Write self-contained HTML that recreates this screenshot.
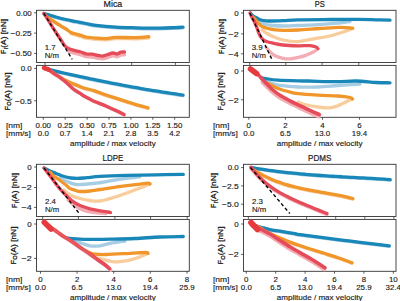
<!DOCTYPE html>
<html><head><meta charset="utf-8"><style>
html,body{margin:0;padding:0;background:#fff;}
svg{display:block;}
text{font-family:"Liberation Sans",sans-serif;fill:#1a1a1a;stroke:#1a1a1a;stroke-width:0.15px;}
</style></head><body>
<svg width="400" height="301" viewBox="0 0 400 301">
<rect width="400" height="301" fill="#fff"/>
<g>
<rect x="36.5" y="10.3" width="152.8" height="52.2" fill="none" stroke="#333333" stroke-width="0.9"/>
<rect x="36.5" y="65.4" width="152.8" height="51.89999999999999" fill="none" stroke="#333333" stroke-width="0.9"/>
<line x1="34.1" y1="12.8" x2="36.5" y2="12.8" stroke="#333333" stroke-width="0.8"/>
<line x1="34.1" y1="33.1" x2="36.5" y2="33.1" stroke="#333333" stroke-width="0.8"/>
<line x1="34.1" y1="53.4" x2="36.5" y2="53.4" stroke="#333333" stroke-width="0.8"/>
<line x1="34.1" y1="68.4" x2="36.5" y2="68.4" stroke="#333333" stroke-width="0.8"/>
<line x1="34.1" y1="100.8" x2="36.5" y2="100.8" stroke="#333333" stroke-width="0.8"/>
<line x1="45" y1="62.5" x2="45" y2="64.9" stroke="#333333" stroke-width="0.8"/>
<line x1="88.9" y1="62.5" x2="88.9" y2="64.9" stroke="#333333" stroke-width="0.8"/>
<line x1="131.7" y1="62.5" x2="131.7" y2="64.9" stroke="#333333" stroke-width="0.8"/>
<line x1="175.4" y1="62.5" x2="175.4" y2="64.9" stroke="#333333" stroke-width="0.8"/>
<line x1="43.3" y1="117.3" x2="43.3" y2="119.7" stroke="#333333" stroke-width="0.8"/>
<line x1="65.19999999999999" y1="117.3" x2="65.19999999999999" y2="119.7" stroke="#333333" stroke-width="0.8"/>
<line x1="87.1" y1="117.3" x2="87.1" y2="119.7" stroke="#333333" stroke-width="0.8"/>
<line x1="108.99999999999999" y1="117.3" x2="108.99999999999999" y2="119.7" stroke="#333333" stroke-width="0.8"/>
<line x1="130.89999999999998" y1="117.3" x2="130.89999999999998" y2="119.7" stroke="#333333" stroke-width="0.8"/>
<line x1="152.8" y1="117.3" x2="152.8" y2="119.7" stroke="#333333" stroke-width="0.8"/>
<line x1="174.7" y1="117.3" x2="174.7" y2="119.7" stroke="#333333" stroke-width="0.8"/>
<path d="M44.00,14.20 C45.17,14.53 49.00,15.62 51.00,16.20 C53.00,16.78 53.50,17.03 56.00,17.70 C58.50,18.37 62.67,19.45 66.00,20.20 C69.33,20.95 72.67,21.53 76.00,22.20 C79.33,22.87 82.67,23.55 86.00,24.20 C89.33,24.85 91.00,25.48 96.00,26.10 C101.00,26.72 109.33,27.50 116.00,27.90 C122.67,28.30 128.67,28.35 136.00,28.50 C143.33,28.65 153.50,28.83 160.00,28.80 C166.50,28.77 171.17,28.45 175.00,28.30 C178.83,28.15 181.67,27.97 183.00,27.90" fill="none" stroke="#a6cde4" stroke-width="3.3" stroke-linecap="round" stroke-linejoin="round" opacity="1.0"/>
<path d="M44.00,13.50 C45.17,13.83 49.00,14.92 51.00,15.50 C53.00,16.08 53.50,16.33 56.00,17.00 C58.50,17.67 62.67,18.75 66.00,19.50 C69.33,20.25 72.67,20.83 76.00,21.50 C79.33,22.17 82.67,22.85 86.00,23.50 C89.33,24.15 91.00,24.78 96.00,25.40 C101.00,26.02 109.33,26.80 116.00,27.20 C122.67,27.60 128.67,27.65 136.00,27.80 C143.33,27.95 153.50,28.13 160.00,28.10 C166.50,28.07 171.17,27.75 175.00,27.60 C178.83,27.45 181.67,27.27 183.00,27.20" fill="none" stroke="#1a87b9" stroke-width="3.3" stroke-linecap="round" stroke-linejoin="round" opacity="1.0"/>
<path d="M71.00,33.70 C71.83,33.95 74.33,34.73 76.00,35.20 C77.67,35.67 79.33,36.00 81.00,36.50 C82.67,37.00 83.50,37.73 86.00,38.20 C88.50,38.67 92.67,39.03 96.00,39.30 C99.33,39.57 102.67,39.92 106.00,39.80 C109.33,39.68 111.00,38.77 116.00,38.60 C121.00,38.43 130.53,38.93 136.00,38.80 C141.47,38.67 146.67,37.97 148.80,37.80" fill="none" stroke="#f9cc9c" stroke-width="3.3" stroke-linecap="round" stroke-linejoin="round" opacity="1.0"/>
<path d="M44.00,13.50 C44.33,13.92 44.83,15.00 46.00,16.00 C47.17,17.00 49.33,18.33 51.00,19.50 C52.67,20.67 54.33,21.92 56.00,23.00 C57.67,24.08 59.33,25.00 61.00,26.00 C62.67,27.00 64.33,27.92 66.00,29.00 C67.67,30.08 69.33,31.67 71.00,32.50 C72.67,33.33 74.33,33.53 76.00,34.00 C77.67,34.47 79.33,34.80 81.00,35.30 C82.67,35.80 83.50,36.53 86.00,37.00 C88.50,37.47 92.67,37.83 96.00,38.10 C99.33,38.37 102.67,38.72 106.00,38.60 C109.33,38.48 111.00,37.57 116.00,37.40 C121.00,37.23 130.53,37.73 136.00,37.60 C141.47,37.47 146.67,36.77 148.80,36.60" fill="none" stroke="#f0962a" stroke-width="3.3" stroke-linecap="round" stroke-linejoin="round" opacity="1.0"/>
<path d="M69.00,51.60 C69.83,51.85 72.00,52.57 74.00,53.10 C76.00,53.63 79.00,54.22 81.00,54.80 C83.00,55.38 84.17,56.23 86.00,56.60 C87.83,56.97 90.00,56.72 92.00,57.00 C94.00,57.28 96.17,58.00 98.00,58.30 C99.83,58.60 101.33,58.97 103.00,58.80 C104.67,58.63 106.33,57.80 108.00,57.30 C109.67,56.80 111.50,55.88 113.00,55.80 C114.50,55.72 115.67,56.93 117.00,56.80 C118.33,56.67 119.75,55.33 121.00,55.00 C122.25,54.67 123.92,54.83 124.50,54.80" fill="none" stroke="#f3acb4" stroke-width="3.3" stroke-linecap="round" stroke-linejoin="round" opacity="1.0"/>
<path d="M44.00,13.50 C45.00,15.08 48.00,19.83 50.00,23.00 C52.00,26.17 54.17,29.67 56.00,32.50 C57.83,35.33 59.50,37.75 61.00,40.00 C62.50,42.25 63.67,44.53 65.00,46.00 C66.33,47.47 67.50,48.08 69.00,48.80 C70.50,49.52 72.00,49.77 74.00,50.30 C76.00,50.83 79.00,51.42 81.00,52.00 C83.00,52.58 84.17,53.43 86.00,53.80 C87.83,54.17 90.00,53.92 92.00,54.20 C94.00,54.48 96.17,55.20 98.00,55.50 C99.83,55.80 101.33,56.17 103.00,56.00 C104.67,55.83 106.33,55.00 108.00,54.50 C109.67,54.00 111.50,53.08 113.00,53.00 C114.50,52.92 115.67,54.13 117.00,54.00 C118.33,53.87 119.75,52.53 121.00,52.20 C122.25,51.87 123.92,52.03 124.50,52.00" fill="none" stroke="#e64b5a" stroke-width="3.3" stroke-linecap="round" stroke-linejoin="round" opacity="1.0"/>
<line x1="43.8" y1="13.3" x2="72.2" y2="59.3" stroke="#000" stroke-width="1.35" stroke-dasharray="3.4,2.5"/>
<path d="M46.00,69.42 C46.99,69.65 49.97,70.37 51.96,70.83 C53.94,71.30 55.93,71.77 57.91,72.23 C59.90,72.69 61.88,73.14 63.87,73.60 C65.86,74.05 67.84,74.50 69.83,74.94 C71.81,75.39 73.80,75.83 75.78,76.26 C77.77,76.70 79.75,77.13 81.74,77.56 C83.72,77.99 85.71,78.41 87.70,78.83 C89.68,79.25 91.67,79.67 93.65,80.08 C95.64,80.49 97.62,80.90 99.61,81.30 C101.59,81.70 103.58,82.10 105.57,82.50 C107.55,82.89 109.54,83.28 111.52,83.67 C113.51,84.05 115.49,84.43 117.48,84.81 C119.46,85.19 121.45,85.56 123.43,85.93 C125.42,86.30 127.41,86.66 129.39,87.02 C131.38,87.38 133.36,87.74 135.35,88.09 C137.33,88.44 139.32,88.79 141.30,89.13 C143.29,89.47 145.28,89.81 147.26,90.15 C149.25,90.48 151.23,90.81 153.22,91.13 C155.20,91.46 157.19,91.78 159.17,92.09 C161.16,92.41 163.14,92.72 165.13,93.02 C167.12,93.33 169.10,93.63 171.09,93.93 C173.07,94.22 175.06,94.52 177.04,94.80 C179.03,95.09 182.01,95.51 183.00,95.65" fill="none" stroke="#a6cde4" stroke-width="3.3" stroke-linecap="round" stroke-linejoin="round" opacity="1.0"/>
<path d="M46.00,68.82 C46.99,69.05 49.97,69.77 51.96,70.23 C53.94,70.70 55.93,71.17 57.91,71.63 C59.90,72.09 61.88,72.54 63.87,73.00 C65.86,73.45 67.84,73.90 69.83,74.34 C71.81,74.79 73.80,75.23 75.78,75.66 C77.77,76.10 79.75,76.53 81.74,76.96 C83.72,77.39 85.71,77.81 87.70,78.23 C89.68,78.65 91.67,79.07 93.65,79.48 C95.64,79.89 97.62,80.30 99.61,80.70 C101.59,81.10 103.58,81.50 105.57,81.90 C107.55,82.29 109.54,82.68 111.52,83.07 C113.51,83.45 115.49,83.83 117.48,84.21 C119.46,84.59 121.45,84.96 123.43,85.33 C125.42,85.70 127.41,86.06 129.39,86.42 C131.38,86.78 133.36,87.14 135.35,87.49 C137.33,87.84 139.32,88.19 141.30,88.53 C143.29,88.87 145.28,89.21 147.26,89.55 C149.25,89.88 151.23,90.21 153.22,90.53 C155.20,90.86 157.19,91.18 159.17,91.49 C161.16,91.81 163.14,92.12 165.13,92.42 C167.12,92.73 169.10,93.03 171.09,93.33 C173.07,93.62 175.06,93.92 177.04,94.20 C179.03,94.49 182.01,94.91 183.00,95.05" fill="none" stroke="#1a87b9" stroke-width="3.3" stroke-linecap="round" stroke-linejoin="round" opacity="1.0"/>
<path d="M44.00,68.60 C44.83,68.93 47.33,69.68 49.00,70.60 C50.67,71.52 52.33,73.00 54.00,74.10 C55.67,75.20 57.33,76.20 59.00,77.20 C60.67,78.20 62.33,79.20 64.00,80.10 C65.67,81.00 67.33,81.85 69.00,82.60 C70.67,83.35 72.33,83.93 74.00,84.60 C75.67,85.27 77.33,85.93 79.00,86.60 C80.67,87.27 81.50,87.83 84.00,88.60 C86.50,89.37 90.33,90.03 94.00,91.20 C97.67,92.37 102.33,94.35 106.00,95.60 C109.67,96.85 112.67,97.63 116.00,98.70 C119.33,99.77 122.67,100.92 126.00,102.00 C129.33,103.08 132.33,104.13 136.00,105.20 C139.67,106.27 146.00,107.87 148.00,108.40" fill="none" stroke="#f9cc9c" stroke-width="3.3" stroke-linecap="round" stroke-linejoin="round" opacity="1.0"/>
<path d="M44.00,68.00 C44.83,68.33 47.33,69.08 49.00,70.00 C50.67,70.92 52.33,72.40 54.00,73.50 C55.67,74.60 57.33,75.60 59.00,76.60 C60.67,77.60 62.33,78.60 64.00,79.50 C65.67,80.40 67.33,81.25 69.00,82.00 C70.67,82.75 72.33,83.33 74.00,84.00 C75.67,84.67 77.33,85.33 79.00,86.00 C80.67,86.67 81.50,87.23 84.00,88.00 C86.50,88.77 90.33,89.43 94.00,90.60 C97.67,91.77 102.33,93.75 106.00,95.00 C109.67,96.25 112.67,97.03 116.00,98.10 C119.33,99.17 122.67,100.32 126.00,101.40 C129.33,102.48 132.33,103.53 136.00,104.60 C139.67,105.67 146.00,107.27 148.00,107.80" fill="none" stroke="#f0962a" stroke-width="3.3" stroke-linecap="round" stroke-linejoin="round" opacity="1.0"/>
<path d="M44.50,68.60 C45.33,68.93 47.83,69.68 49.50,70.60 C51.17,71.52 52.83,73.00 54.50,74.10 C56.17,75.20 57.83,76.02 59.50,77.20 C61.17,78.38 62.83,79.80 64.50,81.20 C66.17,82.60 67.83,84.12 69.50,85.60 C71.17,87.08 72.83,88.83 74.50,90.10 C76.17,91.37 77.83,92.12 79.50,93.20 C81.17,94.28 82.83,95.60 84.50,96.60 C86.17,97.60 87.83,98.33 89.50,99.20 C91.17,100.07 91.67,100.57 94.50,101.80 C97.33,103.03 102.83,105.03 106.50,106.60 C110.17,108.17 113.50,109.78 116.50,111.20 C119.50,112.62 123.17,114.45 124.50,115.10" fill="none" stroke="#f3acb4" stroke-width="3.3" stroke-linecap="round" stroke-linejoin="round" opacity="1.0"/>
<path d="M44.00,68.00 C44.83,68.33 47.33,69.08 49.00,70.00 C50.67,70.92 52.33,72.40 54.00,73.50 C55.67,74.60 57.33,75.42 59.00,76.60 C60.67,77.78 62.33,79.20 64.00,80.60 C65.67,82.00 67.33,83.52 69.00,85.00 C70.67,86.48 72.33,88.23 74.00,89.50 C75.67,90.77 77.33,91.52 79.00,92.60 C80.67,93.68 82.33,95.00 84.00,96.00 C85.67,97.00 87.33,97.73 89.00,98.60 C90.67,99.47 91.17,99.97 94.00,101.20 C96.83,102.43 102.33,104.43 106.00,106.00 C109.67,107.57 113.00,109.18 116.00,110.60 C119.00,112.02 122.67,113.85 124.00,114.50" fill="none" stroke="#e64b5a" stroke-width="3.3" stroke-linecap="round" stroke-linejoin="round" opacity="1.0"/>
<path d="M44.00,67.80 L49.00,69.60" fill="none" stroke="#e83a3e" stroke-width="4.5" stroke-linecap="round" stroke-linejoin="round" opacity="1.0"/>

<rect x="243.5" y="10.3" width="152.5" height="52.2" fill="none" stroke="#333333" stroke-width="0.9"/>
<rect x="243.5" y="65.4" width="152.5" height="51.89999999999999" fill="none" stroke="#333333" stroke-width="0.9"/>
<line x1="241.1" y1="13" x2="243.5" y2="13" stroke="#333333" stroke-width="0.8"/>
<line x1="241.1" y1="33.9" x2="243.5" y2="33.9" stroke="#333333" stroke-width="0.8"/>
<line x1="241.1" y1="53.8" x2="243.5" y2="53.8" stroke="#333333" stroke-width="0.8"/>
<line x1="241.1" y1="71" x2="243.5" y2="71" stroke="#333333" stroke-width="0.8"/>
<line x1="241.1" y1="99.8" x2="243.5" y2="99.8" stroke="#333333" stroke-width="0.8"/>
<line x1="249.7" y1="62.5" x2="249.7" y2="64.9" stroke="#333333" stroke-width="0.8"/>
<line x1="285.8" y1="62.5" x2="285.8" y2="64.9" stroke="#333333" stroke-width="0.8"/>
<line x1="322.1" y1="62.5" x2="322.1" y2="64.9" stroke="#333333" stroke-width="0.8"/>
<line x1="358.8" y1="62.5" x2="358.8" y2="64.9" stroke="#333333" stroke-width="0.8"/>
<line x1="248.8" y1="117.3" x2="248.8" y2="119.7" stroke="#333333" stroke-width="0.8"/>
<line x1="285.4" y1="117.3" x2="285.4" y2="119.7" stroke="#333333" stroke-width="0.8"/>
<line x1="322.5" y1="117.3" x2="322.5" y2="119.7" stroke="#333333" stroke-width="0.8"/>
<line x1="359.5" y1="117.3" x2="359.5" y2="119.7" stroke="#333333" stroke-width="0.8"/>
<path d="M258.00,21.00 C258.83,21.50 260.50,23.25 263.00,24.00 C265.50,24.75 269.67,25.17 273.00,25.50 C276.33,25.83 278.83,26.00 283.00,26.00 C287.17,26.00 292.17,25.72 298.00,25.50 C303.83,25.28 311.33,25.08 318.00,24.70 C324.67,24.32 332.67,23.73 338.00,23.20 C343.33,22.67 348.00,21.78 350.00,21.50" fill="none" stroke="#a6cde4" stroke-width="3.3" stroke-linecap="round" stroke-linejoin="round" opacity="1.0"/>
<path d="M250.50,13.00 C250.92,13.50 252.08,15.25 253.00,16.00 C253.92,16.75 255.00,16.95 256.00,17.50 C257.00,18.05 257.83,18.80 259.00,19.30 C260.17,19.80 261.50,20.22 263.00,20.50 C264.50,20.78 264.67,20.98 268.00,21.00 C271.33,21.02 278.00,20.80 283.00,20.60 C288.00,20.40 290.17,19.98 298.00,19.80 C305.83,19.62 320.00,19.57 330.00,19.50 C340.00,19.43 350.33,19.35 358.00,19.40 C365.67,19.45 370.67,19.68 376.00,19.80 C381.33,19.92 387.67,20.05 390.00,20.10" fill="none" stroke="#1a87b9" stroke-width="3.3" stroke-linecap="round" stroke-linejoin="round" opacity="1.0"/>
<path d="M262.00,30.00 C262.83,30.58 265.17,32.42 267.00,33.50 C268.83,34.58 270.33,35.42 273.00,36.50 C275.67,37.58 278.83,39.15 283.00,40.00 C287.17,40.85 292.67,41.83 298.00,41.60 C303.33,41.37 309.67,39.53 315.00,38.60 C320.33,37.67 325.83,36.93 330.00,36.00 C334.17,35.07 336.17,34.25 340.00,33.00 C343.83,31.75 350.83,29.25 353.00,28.50" fill="none" stroke="#f9cc9c" stroke-width="3.3" stroke-linecap="round" stroke-linejoin="round" opacity="1.0"/>
<path d="M253.00,17.00 C253.67,17.75 255.83,20.17 257.00,21.50 C258.17,22.83 259.00,24.08 260.00,25.00 C261.00,25.92 261.67,26.42 263.00,27.00 C264.33,27.58 266.33,28.08 268.00,28.50 C269.67,28.92 270.50,29.20 273.00,29.50 C275.50,29.80 278.83,30.22 283.00,30.30 C287.17,30.38 291.83,30.30 298.00,30.00 C304.17,29.70 313.00,28.95 320.00,28.50 C327.00,28.05 334.58,27.35 340.00,27.30 C345.42,27.25 350.42,28.05 352.50,28.20" fill="none" stroke="#f0962a" stroke-width="3.3" stroke-linecap="round" stroke-linejoin="round" opacity="1.0"/>
<path d="M266.00,47.00 C266.67,47.83 268.50,50.53 270.00,52.00 C271.50,53.47 272.83,54.75 275.00,55.80 C277.17,56.85 280.50,57.78 283.00,58.30 C285.50,58.82 287.50,59.03 290.00,58.90 C292.50,58.77 295.50,58.05 298.00,57.50 C300.50,56.95 302.00,56.75 305.00,55.60 C308.00,54.45 314.17,51.43 316.00,50.60" fill="none" stroke="#f3acb4" stroke-width="3.3" stroke-linecap="round" stroke-linejoin="round" opacity="1.0"/>
<path d="M250.00,13.00 C250.33,13.75 251.25,16.00 252.00,17.50 C252.75,19.00 253.67,20.25 254.50,22.00 C255.33,23.75 256.22,26.00 257.00,28.00 C257.78,30.00 258.45,32.33 259.20,34.00 C259.95,35.67 260.62,36.90 261.50,38.00 C262.38,39.10 263.42,39.93 264.50,40.60 C265.58,41.27 266.58,41.57 268.00,42.00 C269.42,42.43 270.50,42.70 273.00,43.20 C275.50,43.70 278.83,44.57 283.00,45.00 C287.17,45.43 293.50,45.68 298.00,45.80 C302.50,45.92 307.00,45.50 310.00,45.70 C313.00,45.90 314.67,46.50 316.00,47.00 C317.33,47.50 317.67,48.42 318.00,48.70" fill="none" stroke="#e64b5a" stroke-width="3.3" stroke-linecap="round" stroke-linejoin="round" opacity="1.0"/>
<line x1="249.8" y1="13" x2="272" y2="59.5" stroke="#000" stroke-width="1.35" stroke-dasharray="3.4,2.5"/>
<path d="M264.00,80.00 C265.00,80.42 267.67,81.63 270.00,82.50 C272.33,83.37 273.33,84.45 278.00,85.20 C282.67,85.95 291.33,86.70 298.00,87.00 C304.67,87.30 311.33,87.25 318.00,87.00 C324.67,86.75 331.00,86.00 338.00,85.50 C345.00,85.00 356.33,84.25 360.00,84.00" fill="none" stroke="#a6cde4" stroke-width="3.3" stroke-linecap="round" stroke-linejoin="round" opacity="1.0"/>
<path d="M262.00,78.00 C262.67,78.10 263.33,78.23 266.00,78.60 C268.67,78.97 271.00,79.80 278.00,80.20 C285.00,80.60 298.33,80.75 308.00,81.00 C317.67,81.25 328.00,81.70 336.00,81.70 C344.00,81.70 349.33,80.87 356.00,81.00 C362.67,81.13 370.33,82.20 376.00,82.50 C381.67,82.80 387.67,82.75 390.00,82.80" fill="none" stroke="#1a87b9" stroke-width="3.3" stroke-linecap="round" stroke-linejoin="round" opacity="1.0"/>
<path d="M298.00,102.00 C299.17,102.42 301.67,103.67 305.00,104.50 C308.33,105.33 313.83,106.45 318.00,107.00 C322.17,107.55 326.67,108.02 330.00,107.80 C333.33,107.58 334.33,107.17 338.00,105.70 C341.67,104.23 349.67,100.12 352.00,99.00" fill="none" stroke="#f9cc9c" stroke-width="3.3" stroke-linecap="round" stroke-linejoin="round" opacity="1.0"/>
<path d="M267.00,83.00 C268.00,83.50 271.17,85.08 273.00,86.00 C274.83,86.92 275.50,87.58 278.00,88.50 C280.50,89.42 284.67,90.63 288.00,91.50 C291.33,92.37 293.00,93.08 298.00,93.70 C303.00,94.32 311.33,94.82 318.00,95.20 C324.67,95.58 332.67,95.62 338.00,96.00 C343.33,96.38 347.58,97.00 350.00,97.50 C352.42,98.00 352.08,98.75 352.50,99.00" fill="none" stroke="#f0962a" stroke-width="3.3" stroke-linecap="round" stroke-linejoin="round" opacity="1.0"/>
<path d="M262.20,82.20 C263.03,83.03 265.53,85.53 267.20,87.20 C268.87,88.87 270.20,90.48 272.20,92.20 C274.20,93.92 276.37,95.70 279.20,97.50 C282.03,99.30 285.87,101.28 289.20,103.00 C292.53,104.72 295.87,106.20 299.20,107.80 C302.53,109.40 305.95,111.10 309.20,112.60 C312.45,114.10 317.12,116.10 318.70,116.80" fill="none" stroke="#f3acb4" stroke-width="3.6" stroke-linecap="round" stroke-linejoin="round" opacity="1.0"/>
<path d="M250.50,69.50 C251.08,69.83 252.75,70.67 254.00,71.50 C255.25,72.33 256.50,73.08 258.00,74.50 C259.50,75.92 261.33,78.25 263.00,80.00 C264.67,81.75 266.33,83.33 268.00,85.00 C269.67,86.67 271.00,88.28 273.00,90.00 C275.00,91.72 277.17,93.50 280.00,95.30 C282.83,97.10 286.67,99.08 290.00,100.80 C293.33,102.52 296.67,104.00 300.00,105.60 C303.33,107.20 306.75,108.90 310.00,110.40 C313.25,111.90 317.92,113.90 319.50,114.60" fill="none" stroke="#e64b5a" stroke-width="3.6" stroke-linecap="round" stroke-linejoin="round" opacity="1.0"/>
<path d="M250.50,69.00 L256.50,73.50" fill="none" stroke="#e83a3e" stroke-width="5.5" stroke-linecap="round" stroke-linejoin="round" opacity="1.0"/>

<rect x="36.5" y="164.3" width="152.8" height="52.19999999999999" fill="none" stroke="#333333" stroke-width="0.9"/>
<rect x="36.5" y="219.4" width="152.8" height="51.900000000000006" fill="none" stroke="#333333" stroke-width="0.9"/>
<line x1="34.1" y1="167" x2="36.5" y2="167" stroke="#333333" stroke-width="0.8"/>
<line x1="34.1" y1="187.5" x2="36.5" y2="187.5" stroke="#333333" stroke-width="0.8"/>
<line x1="34.1" y1="207.4" x2="36.5" y2="207.4" stroke="#333333" stroke-width="0.8"/>
<line x1="34.1" y1="224" x2="36.5" y2="224" stroke="#333333" stroke-width="0.8"/>
<line x1="34.1" y1="258.4" x2="36.5" y2="258.4" stroke="#333333" stroke-width="0.8"/>
<line x1="42.7" y1="216.5" x2="42.7" y2="218.9" stroke="#333333" stroke-width="0.8"/>
<line x1="78.4" y1="216.5" x2="78.4" y2="218.9" stroke="#333333" stroke-width="0.8"/>
<line x1="114.9" y1="216.5" x2="114.9" y2="218.9" stroke="#333333" stroke-width="0.8"/>
<line x1="150.6" y1="216.5" x2="150.6" y2="218.9" stroke="#333333" stroke-width="0.8"/>
<line x1="187.2" y1="216.5" x2="187.2" y2="218.9" stroke="#333333" stroke-width="0.8"/>
<line x1="40.5" y1="271.3" x2="40.5" y2="273.7" stroke="#333333" stroke-width="0.8"/>
<line x1="77.1" y1="271.3" x2="77.1" y2="273.7" stroke="#333333" stroke-width="0.8"/>
<line x1="113.7" y1="271.3" x2="113.7" y2="273.7" stroke="#333333" stroke-width="0.8"/>
<line x1="150.3" y1="271.3" x2="150.3" y2="273.7" stroke="#333333" stroke-width="0.8"/>
<line x1="187" y1="271.3" x2="187" y2="273.7" stroke="#333333" stroke-width="0.8"/>
<path d="M60.00,178.00 C61.00,178.50 63.33,179.92 66.00,181.00 C68.67,182.08 71.00,184.13 76.00,184.50 C81.00,184.87 90.33,183.82 96.00,183.20 C101.67,182.58 105.00,181.60 110.00,180.80 C115.00,180.00 121.00,179.07 126.00,178.40 C131.00,177.73 137.67,177.07 140.00,176.80" fill="none" stroke="#a6cde4" stroke-width="3.3" stroke-linecap="round" stroke-linejoin="round" opacity="1.0"/>
<path d="M44.00,168.00 C45.00,168.50 48.00,170.08 50.00,171.00 C52.00,171.92 54.17,172.75 56.00,173.50 C57.83,174.25 59.33,174.92 61.00,175.50 C62.67,176.08 64.33,176.58 66.00,177.00 C67.67,177.42 69.17,177.77 71.00,178.00 C72.83,178.23 74.83,178.40 77.00,178.40 C79.17,178.40 81.83,178.18 84.00,178.00 C86.17,177.82 87.33,177.57 90.00,177.30 C92.67,177.03 94.00,176.72 100.00,176.40 C106.00,176.08 116.67,175.67 126.00,175.40 C135.33,175.13 146.45,174.97 156.00,174.80 C165.55,174.63 178.75,174.47 183.30,174.40" fill="none" stroke="#1a87b9" stroke-width="3.3" stroke-linecap="round" stroke-linejoin="round" opacity="1.0"/>
<path d="M64.00,190.00 C65.00,190.83 67.33,193.58 70.00,195.00 C72.67,196.42 76.67,197.58 80.00,198.50 C83.33,199.42 86.67,200.08 90.00,200.50 C93.33,200.92 95.67,201.63 100.00,201.00 C104.33,200.37 110.00,198.62 116.00,196.70 C122.00,194.78 130.33,191.62 136.00,189.50 C141.67,187.38 147.67,184.92 150.00,184.00" fill="none" stroke="#f9cc9c" stroke-width="3.3" stroke-linecap="round" stroke-linejoin="round" opacity="1.0"/>
<path d="M50.00,172.00 C50.67,172.75 52.67,175.33 54.00,176.50 C55.33,177.67 56.67,178.08 58.00,179.00 C59.33,179.92 60.67,181.00 62.00,182.00 C63.33,183.00 64.67,183.92 66.00,185.00 C67.33,186.08 68.33,187.58 70.00,188.50 C71.67,189.42 74.33,190.00 76.00,190.50 C77.67,191.00 77.67,191.42 80.00,191.50 C82.33,191.58 86.67,191.33 90.00,191.00 C93.33,190.67 95.67,190.15 100.00,189.50 C104.33,188.85 110.00,187.90 116.00,187.10 C122.00,186.30 130.67,185.35 136.00,184.70 C141.33,184.05 145.67,183.32 148.00,183.20 C150.33,183.08 149.67,183.87 150.00,184.00" fill="none" stroke="#f0962a" stroke-width="3.3" stroke-linecap="round" stroke-linejoin="round" opacity="1.0"/>
<path d="M68.00,200.00 C69.00,200.83 72.00,203.53 74.00,205.00 C76.00,206.47 77.67,207.70 80.00,208.80 C82.33,209.90 84.67,210.87 88.00,211.60 C91.33,212.33 97.00,212.87 100.00,213.20 C103.00,213.53 105.00,213.53 106.00,213.60" fill="none" stroke="#f3acb4" stroke-width="3.3" stroke-linecap="round" stroke-linejoin="round" opacity="1.0"/>
<path d="M44.00,168.00 C45.33,169.75 49.67,175.42 52.00,178.50 C54.33,181.58 56.33,184.38 58.00,186.50 C59.67,188.62 60.50,189.57 62.00,191.20 C63.50,192.83 65.33,194.70 67.00,196.30 C68.67,197.90 69.83,199.25 72.00,200.80 C74.17,202.35 77.00,204.27 80.00,205.60 C83.00,206.93 86.67,207.93 90.00,208.80 C93.33,209.67 97.00,210.27 100.00,210.80 C103.00,211.33 106.25,211.70 108.00,212.00 C109.75,212.30 110.08,212.50 110.50,212.60" fill="none" stroke="#e64b5a" stroke-width="3.3" stroke-linecap="round" stroke-linejoin="round" opacity="1.0"/>
<line x1="44" y1="168" x2="80" y2="214.5" stroke="#000" stroke-width="1.35" stroke-dasharray="3.4,2.5"/>
<path d="M70.00,240.50 C71.33,240.78 74.67,241.32 78.00,242.20 C81.33,243.08 86.33,245.20 90.00,245.80 C93.67,246.40 96.67,246.20 100.00,245.80 C103.33,245.40 105.83,244.20 110.00,243.40 C114.17,242.60 122.50,241.40 125.00,241.00" fill="none" stroke="#a6cde4" stroke-width="3.3" stroke-linecap="round" stroke-linejoin="round" opacity="1.0"/>
<path d="M67.00,238.00 C67.83,238.10 68.83,238.37 72.00,238.60 C75.17,238.83 81.33,239.28 86.00,239.40 C90.67,239.52 96.00,239.33 100.00,239.30 C104.00,239.27 104.17,239.33 110.00,239.20 C115.83,239.07 126.67,238.87 135.00,238.50 C143.33,238.13 151.95,237.33 160.00,237.00 C168.05,236.67 179.42,236.58 183.30,236.50" fill="none" stroke="#1a87b9" stroke-width="3.3" stroke-linecap="round" stroke-linejoin="round" opacity="1.0"/>
<path d="M98.00,258.00 C99.00,258.25 102.00,258.97 104.00,259.50 C106.00,260.03 107.33,260.83 110.00,261.20 C112.67,261.57 115.83,262.13 120.00,261.70 C124.17,261.27 130.33,260.00 135.00,258.60 C139.67,257.20 145.83,254.18 148.00,253.30" fill="none" stroke="#f9cc9c" stroke-width="3.3" stroke-linecap="round" stroke-linejoin="round" opacity="1.0"/>
<path d="M78.00,246.00 C79.00,246.67 82.00,248.87 84.00,250.00 C86.00,251.13 88.17,252.10 90.00,252.80 C91.83,253.50 92.33,253.92 95.00,254.20 C97.67,254.48 100.17,254.65 106.00,254.50 C111.83,254.35 123.50,253.63 130.00,253.30 C136.50,252.97 142.00,252.50 145.00,252.50 C148.00,252.50 147.50,253.17 148.00,253.30" fill="none" stroke="#f0962a" stroke-width="3.3" stroke-linecap="round" stroke-linejoin="round" opacity="1.0"/>
<path d="M45.70,223.90 C46.62,224.62 49.28,226.78 51.20,228.20 C53.12,229.62 55.20,231.00 57.20,232.40 C59.20,233.80 60.87,235.05 63.20,236.60 C65.53,238.15 68.20,239.70 71.20,241.70 C74.20,243.70 77.87,246.32 81.20,248.60 C84.53,250.88 88.53,253.53 91.20,255.40 C93.87,257.27 94.87,258.13 97.20,259.80 C99.53,261.47 102.95,263.70 105.20,265.40 C107.45,267.10 109.78,269.23 110.70,270.00" fill="none" stroke="#f3acb4" stroke-width="3.6" stroke-linecap="round" stroke-linejoin="round" opacity="1.0"/>
<path d="M44.50,222.50 C45.42,223.22 48.08,225.38 50.00,226.80 C51.92,228.22 54.00,229.60 56.00,231.00 C58.00,232.40 59.67,233.65 62.00,235.20 C64.33,236.75 67.00,238.30 70.00,240.30 C73.00,242.30 76.67,244.92 80.00,247.20 C83.33,249.48 87.33,252.13 90.00,254.00 C92.67,255.87 93.67,256.73 96.00,258.40 C98.33,260.07 101.75,262.30 104.00,264.00 C106.25,265.70 108.58,267.83 109.50,268.60" fill="none" stroke="#e64b5a" stroke-width="3.6" stroke-linecap="round" stroke-linejoin="round" opacity="1.0"/>
<path d="M50.00,226.92 C50.33,227.14 51.33,227.81 52.00,228.26 C52.67,228.71 53.33,229.15 54.00,229.60 C54.67,230.05 55.33,230.49 56.00,230.94 C56.67,231.39 57.33,231.84 58.00,232.29 C58.67,232.74 59.33,233.18 60.00,233.63 C60.67,234.08 61.33,234.53 62.00,234.98 C62.67,235.43 63.33,235.88 64.00,236.34 C64.67,236.79 65.33,237.24 66.00,237.69 C66.67,238.14 67.33,238.59 68.00,239.05 C68.67,239.50 69.33,239.95 70.00,240.41 C70.67,240.86 71.33,241.31 72.00,241.77 C72.67,242.22 73.33,242.68 74.00,243.13 C74.67,243.59 75.33,244.04 76.00,244.50 C76.67,244.95 77.33,245.41 78.00,245.87 C78.67,246.32 79.33,246.78 80.00,247.24 C80.67,247.69 81.33,248.15 82.00,248.61 C82.67,249.07 83.33,249.53 84.00,249.98 C84.67,250.44 85.33,250.90 86.00,251.36 C86.67,251.82 87.33,252.28 88.00,252.74 C88.67,253.20 89.33,253.66 90.00,254.12 C90.67,254.59 91.33,255.05 92.00,255.51 C92.67,255.97 93.33,256.43 94.00,256.90 C94.67,257.36 95.67,258.05 96.00,258.29" fill="none" stroke="#f0804a" stroke-width="0.8" stroke-linecap="round" stroke-linejoin="round" opacity="0.7"/>
<path d="M44.20,222.20 L51.00,229.00" fill="none" stroke="#e83a3e" stroke-width="5.5" stroke-linecap="round" stroke-linejoin="round" opacity="1.0"/>

<rect x="243.5" y="164.3" width="152.5" height="52.19999999999999" fill="none" stroke="#333333" stroke-width="0.9"/>
<rect x="243.5" y="219.4" width="152.5" height="51.900000000000006" fill="none" stroke="#333333" stroke-width="0.9"/>
<line x1="241.1" y1="167.6" x2="243.5" y2="167.6" stroke="#333333" stroke-width="0.8"/>
<line x1="241.1" y1="185.9" x2="243.5" y2="185.9" stroke="#333333" stroke-width="0.8"/>
<line x1="241.1" y1="204.2" x2="243.5" y2="204.2" stroke="#333333" stroke-width="0.8"/>
<line x1="241.1" y1="224" x2="243.5" y2="224" stroke="#333333" stroke-width="0.8"/>
<line x1="241.1" y1="254.4" x2="243.5" y2="254.4" stroke="#333333" stroke-width="0.8"/>
<line x1="248.4" y1="216.5" x2="248.4" y2="218.9" stroke="#333333" stroke-width="0.8"/>
<line x1="277.5" y1="216.5" x2="277.5" y2="218.9" stroke="#333333" stroke-width="0.8"/>
<line x1="306.6" y1="216.5" x2="306.6" y2="218.9" stroke="#333333" stroke-width="0.8"/>
<line x1="335.7" y1="216.5" x2="335.7" y2="218.9" stroke="#333333" stroke-width="0.8"/>
<line x1="364.8" y1="216.5" x2="364.8" y2="218.9" stroke="#333333" stroke-width="0.8"/>
<line x1="393.9" y1="216.5" x2="393.9" y2="218.9" stroke="#333333" stroke-width="0.8"/>
<line x1="246.3" y1="271.3" x2="246.3" y2="273.7" stroke="#333333" stroke-width="0.8"/>
<line x1="275.7" y1="271.3" x2="275.7" y2="273.7" stroke="#333333" stroke-width="0.8"/>
<line x1="305.1" y1="271.3" x2="305.1" y2="273.7" stroke="#333333" stroke-width="0.8"/>
<line x1="334.5" y1="271.3" x2="334.5" y2="273.7" stroke="#333333" stroke-width="0.8"/>
<line x1="363.9" y1="271.3" x2="363.9" y2="273.7" stroke="#333333" stroke-width="0.8"/>
<line x1="393.3" y1="271.3" x2="393.3" y2="273.7" stroke="#333333" stroke-width="0.8"/>
<path d="M251.00,167.98 C252.01,168.16 255.03,168.69 257.05,169.02 C259.07,169.35 261.09,169.67 263.10,169.97 C265.12,170.28 267.14,170.57 269.16,170.85 C271.17,171.13 273.19,171.40 275.21,171.65 C277.23,171.91 279.24,172.16 281.26,172.39 C283.28,172.63 285.30,172.86 287.31,173.07 C289.33,173.29 291.35,173.50 293.37,173.70 C295.38,173.90 297.40,174.09 299.42,174.27 C301.43,174.45 303.45,174.63 305.47,174.80 C307.49,174.96 309.50,175.13 311.52,175.28 C313.54,175.44 315.56,175.59 317.57,175.73 C319.59,175.88 321.61,176.01 323.63,176.15 C325.64,176.28 327.66,176.41 329.68,176.54 C331.70,176.67 333.71,176.79 335.73,176.91 C337.75,177.03 339.77,177.15 341.78,177.27 C343.80,177.38 345.82,177.50 347.83,177.61 C349.85,177.72 351.87,177.84 353.89,177.95 C355.90,178.06 357.92,178.17 359.94,178.28 C361.96,178.40 363.97,178.51 365.99,178.62 C368.01,178.74 370.03,178.85 372.04,178.97 C374.06,179.09 376.08,179.21 378.10,179.33 C380.11,179.46 382.13,179.58 384.15,179.71 C386.17,179.84 389.19,180.05 390.20,180.12" fill="none" stroke="#a6cde4" stroke-width="3.3" stroke-linecap="round" stroke-linejoin="round" opacity="1.0"/>
<path d="M251.00,167.48 C252.01,167.66 255.03,168.19 257.05,168.52 C259.07,168.85 261.09,169.17 263.10,169.47 C265.12,169.78 267.14,170.07 269.16,170.35 C271.17,170.63 273.19,170.90 275.21,171.15 C277.23,171.41 279.24,171.66 281.26,171.89 C283.28,172.13 285.30,172.36 287.31,172.57 C289.33,172.79 291.35,173.00 293.37,173.20 C295.38,173.40 297.40,173.59 299.42,173.77 C301.43,173.95 303.45,174.13 305.47,174.30 C307.49,174.46 309.50,174.63 311.52,174.78 C313.54,174.94 315.56,175.09 317.57,175.23 C319.59,175.38 321.61,175.51 323.63,175.65 C325.64,175.78 327.66,175.91 329.68,176.04 C331.70,176.17 333.71,176.29 335.73,176.41 C337.75,176.53 339.77,176.65 341.78,176.77 C343.80,176.88 345.82,177.00 347.83,177.11 C349.85,177.22 351.87,177.34 353.89,177.45 C355.90,177.56 357.92,177.67 359.94,177.78 C361.96,177.90 363.97,178.01 365.99,178.12 C368.01,178.24 370.03,178.35 372.04,178.47 C374.06,178.59 376.08,178.71 378.10,178.83 C380.11,178.96 382.13,179.08 384.15,179.21 C386.17,179.34 389.19,179.55 390.20,179.62" fill="none" stroke="#1a87b9" stroke-width="3.3" stroke-linecap="round" stroke-linejoin="round" opacity="1.0"/>
<path d="M251.00,168.77 C251.74,169.25 253.95,170.72 255.43,171.62 C256.90,172.53 258.38,173.39 259.85,174.22 C261.33,175.04 262.80,175.82 264.28,176.57 C265.75,177.31 267.23,178.02 268.70,178.69 C270.18,179.37 271.66,180.01 273.13,180.62 C274.61,181.22 276.08,181.80 277.56,182.35 C279.03,182.89 280.51,183.41 281.98,183.90 C283.46,184.40 284.93,184.86 286.41,185.31 C287.88,185.75 289.36,186.17 290.83,186.57 C292.31,186.97 293.79,187.35 295.26,187.71 C296.74,188.07 298.21,188.42 299.69,188.75 C301.16,189.08 302.64,189.39 304.11,189.70 C305.59,190.00 307.06,190.29 308.54,190.58 C310.01,190.86 311.49,191.13 312.97,191.40 C314.44,191.67 315.92,191.93 317.39,192.19 C318.87,192.45 320.34,192.70 321.82,192.96 C323.29,193.21 324.77,193.47 326.24,193.73 C327.72,193.98 329.19,194.24 330.67,194.51 C332.14,194.77 333.62,195.04 335.10,195.32 C336.57,195.60 338.05,195.88 339.52,196.18 C341.00,196.48 342.47,196.78 343.95,197.11 C345.42,197.43 346.90,197.76 348.37,198.11 C349.85,198.47 352.06,199.04 352.80,199.22" fill="none" stroke="#f9cc9c" stroke-width="3.3" stroke-linecap="round" stroke-linejoin="round" opacity="1.0"/>
<path d="M251.00,168.07 C251.74,168.55 253.95,170.02 255.43,170.92 C256.90,171.83 258.38,172.69 259.85,173.52 C261.33,174.34 262.80,175.12 264.28,175.87 C265.75,176.61 267.23,177.32 268.70,177.99 C270.18,178.67 271.66,179.31 273.13,179.92 C274.61,180.52 276.08,181.10 277.56,181.65 C279.03,182.19 280.51,182.71 281.98,183.20 C283.46,183.70 284.93,184.16 286.41,184.61 C287.88,185.05 289.36,185.47 290.83,185.87 C292.31,186.27 293.79,186.65 295.26,187.01 C296.74,187.37 298.21,187.72 299.69,188.05 C301.16,188.38 302.64,188.69 304.11,189.00 C305.59,189.30 307.06,189.59 308.54,189.88 C310.01,190.16 311.49,190.43 312.97,190.70 C314.44,190.97 315.92,191.23 317.39,191.49 C318.87,191.75 320.34,192.00 321.82,192.26 C323.29,192.51 324.77,192.77 326.24,193.03 C327.72,193.28 329.19,193.54 330.67,193.81 C332.14,194.07 333.62,194.34 335.10,194.62 C336.57,194.90 338.05,195.18 339.52,195.48 C341.00,195.78 342.47,196.08 343.95,196.41 C345.42,196.73 346.90,197.06 348.37,197.41 C349.85,197.77 352.06,198.34 352.80,198.52" fill="none" stroke="#f0962a" stroke-width="3.3" stroke-linecap="round" stroke-linejoin="round" opacity="1.0"/>
<path d="M251.00,168.36 C251.55,169.04 253.20,171.14 254.30,172.43 C255.41,173.73 256.51,174.95 257.61,176.12 C258.71,177.29 259.81,178.40 260.91,179.46 C262.01,180.52 263.12,181.52 264.22,182.48 C265.32,183.44 266.42,184.36 267.52,185.23 C268.62,186.11 269.72,186.94 270.83,187.74 C271.93,188.54 273.03,189.29 274.13,190.03 C275.23,190.76 276.33,191.46 277.43,192.13 C278.54,192.81 279.64,193.46 280.74,194.08 C281.84,194.71 282.94,195.31 284.04,195.90 C285.14,196.49 286.25,197.05 287.35,197.60 C288.45,198.16 289.55,198.69 290.65,199.22 C291.75,199.74 292.86,200.25 293.96,200.76 C295.06,201.26 296.16,201.75 297.26,202.24 C298.36,202.72 299.46,203.20 300.57,203.67 C301.67,204.15 302.77,204.61 303.87,205.08 C304.97,205.54 306.07,206.00 307.17,206.46 C308.28,206.92 309.38,207.37 310.48,207.82 C311.58,208.28 312.68,208.73 313.78,209.18 C314.88,209.62 315.99,210.07 317.09,210.52 C318.19,210.97 319.29,211.41 320.39,211.85 C321.49,212.30 322.59,212.74 323.70,213.18 C324.80,213.62 326.45,214.27 327.00,214.49" fill="none" stroke="#f3acb4" stroke-width="3.3" stroke-linecap="round" stroke-linejoin="round" opacity="1.0"/>
<path d="M251.00,167.36 C251.55,168.04 253.20,170.14 254.30,171.43 C255.41,172.73 256.51,173.95 257.61,175.12 C258.71,176.29 259.81,177.40 260.91,178.46 C262.01,179.52 263.12,180.52 264.22,181.48 C265.32,182.44 266.42,183.36 267.52,184.23 C268.62,185.11 269.72,185.94 270.83,186.74 C271.93,187.54 273.03,188.29 274.13,189.03 C275.23,189.76 276.33,190.46 277.43,191.13 C278.54,191.81 279.64,192.46 280.74,193.08 C281.84,193.71 282.94,194.31 284.04,194.90 C285.14,195.49 286.25,196.05 287.35,196.60 C288.45,197.16 289.55,197.69 290.65,198.22 C291.75,198.74 292.86,199.25 293.96,199.76 C295.06,200.26 296.16,200.75 297.26,201.24 C298.36,201.72 299.46,202.20 300.57,202.67 C301.67,203.15 302.77,203.61 303.87,204.08 C304.97,204.54 306.07,205.00 307.17,205.46 C308.28,205.92 309.38,206.37 310.48,206.82 C311.58,207.28 312.68,207.73 313.78,208.18 C314.88,208.62 315.99,209.07 317.09,209.52 C318.19,209.97 319.29,210.41 320.39,210.85 C321.49,211.30 322.59,211.74 323.70,212.18 C324.80,212.62 326.45,213.27 327.00,213.49" fill="none" stroke="#e64b5a" stroke-width="3.3" stroke-linecap="round" stroke-linejoin="round" opacity="1.0"/>
<line x1="250.5" y1="167.5" x2="289.8" y2="213.5" stroke="#000" stroke-width="1.35" stroke-dasharray="3.4,2.5"/>
<path d="M257.00,226.50 C257.83,226.75 259.83,227.40 262.00,228.00 C264.17,228.60 267.00,229.48 270.00,230.10 C273.00,230.72 275.83,231.03 280.00,231.70 C284.17,232.37 291.67,233.53 295.00,234.10 C298.33,234.67 292.50,234.07 300.00,235.10 C307.50,236.13 330.00,239.00 340.00,240.30 C350.00,241.60 351.78,241.90 360.00,242.90 C368.22,243.90 384.42,245.73 389.30,246.30" fill="none" stroke="#a6cde4" stroke-width="3.3" stroke-linecap="round" stroke-linejoin="round" opacity="1.0"/>
<path d="M257.00,226.00 C257.83,226.25 259.83,226.90 262.00,227.50 C264.17,228.10 267.00,228.98 270.00,229.60 C273.00,230.22 275.83,230.53 280.00,231.20 C284.17,231.87 291.67,233.03 295.00,233.60 C298.33,234.17 292.50,233.57 300.00,234.60 C307.50,235.63 330.00,238.50 340.00,239.80 C350.00,241.10 351.78,241.40 360.00,242.40 C368.22,243.40 384.42,245.23 389.30,245.80" fill="none" stroke="#1a87b9" stroke-width="3.3" stroke-linecap="round" stroke-linejoin="round" opacity="1.0"/>
<path d="M258.00,227.20 C258.68,227.60 260.72,228.84 262.09,229.62 C263.45,230.40 264.81,231.16 266.17,231.89 C267.54,232.62 268.90,233.32 270.26,234.01 C271.62,234.70 272.99,235.36 274.35,236.00 C275.71,236.64 277.07,237.26 278.43,237.87 C279.80,238.47 281.16,239.05 282.52,239.62 C283.88,240.19 285.25,240.74 286.61,241.28 C287.97,241.82 289.33,242.34 290.70,242.85 C292.06,243.36 293.42,243.85 294.78,244.34 C296.14,244.82 297.51,245.30 298.87,245.76 C300.23,246.23 301.59,246.68 302.96,247.13 C304.32,247.58 305.68,248.02 307.04,248.46 C308.41,248.89 309.77,249.32 311.13,249.75 C312.49,250.18 313.86,250.60 315.22,251.02 C316.58,251.44 317.94,251.86 319.30,252.28 C320.67,252.70 322.03,253.11 323.39,253.54 C324.75,253.96 326.12,254.38 327.48,254.81 C328.84,255.23 330.20,255.66 331.57,256.10 C332.93,256.53 334.29,256.97 335.65,257.42 C337.01,257.87 338.38,258.33 339.74,258.79 C341.10,259.26 342.46,259.73 343.83,260.22 C345.19,260.71 346.55,261.20 347.91,261.71 C349.28,262.22 351.32,263.02 352.00,263.28" fill="none" stroke="#f9cc9c" stroke-width="3.3" stroke-linecap="round" stroke-linejoin="round" opacity="1.0"/>
<path d="M258.00,226.70 C258.68,227.10 260.72,228.34 262.09,229.12 C263.45,229.90 264.81,230.66 266.17,231.39 C267.54,232.12 268.90,232.82 270.26,233.51 C271.62,234.20 272.99,234.86 274.35,235.50 C275.71,236.14 277.07,236.76 278.43,237.37 C279.80,237.97 281.16,238.55 282.52,239.12 C283.88,239.69 285.25,240.24 286.61,240.78 C287.97,241.32 289.33,241.84 290.70,242.35 C292.06,242.86 293.42,243.35 294.78,243.84 C296.14,244.32 297.51,244.80 298.87,245.26 C300.23,245.73 301.59,246.18 302.96,246.63 C304.32,247.08 305.68,247.52 307.04,247.96 C308.41,248.39 309.77,248.82 311.13,249.25 C312.49,249.68 313.86,250.10 315.22,250.52 C316.58,250.94 317.94,251.36 319.30,251.78 C320.67,252.20 322.03,252.61 323.39,253.04 C324.75,253.46 326.12,253.88 327.48,254.31 C328.84,254.73 330.20,255.16 331.57,255.60 C332.93,256.03 334.29,256.47 335.65,256.92 C337.01,257.37 338.38,257.83 339.74,258.29 C341.10,258.76 342.46,259.23 343.83,259.72 C345.19,260.21 346.55,260.70 347.91,261.21 C349.28,261.72 351.32,262.52 352.00,262.78" fill="none" stroke="#f0962a" stroke-width="3.3" stroke-linecap="round" stroke-linejoin="round" opacity="1.0"/>
<path d="M251.20,225.30 C251.87,225.75 253.87,227.12 255.20,228.00 C256.53,228.88 256.87,229.30 259.20,230.60 C261.53,231.90 265.87,233.85 269.20,235.80 C272.53,237.75 275.87,240.17 279.20,242.30 C282.53,244.43 285.87,246.58 289.20,248.60 C292.53,250.62 295.53,252.28 299.20,254.40 C302.87,256.52 307.03,258.77 311.20,261.30 C315.37,263.83 322.03,268.22 324.20,269.60" fill="none" stroke="#f3acb4" stroke-width="3.6" stroke-linecap="round" stroke-linejoin="round" opacity="1.0"/>
<path d="M252.00,223.50 C252.67,223.95 254.67,225.32 256.00,226.20 C257.33,227.08 257.67,227.50 260.00,228.80 C262.33,230.10 266.67,232.05 270.00,234.00 C273.33,235.95 276.67,238.37 280.00,240.50 C283.33,242.63 286.67,244.78 290.00,246.80 C293.33,248.82 296.33,250.48 300.00,252.60 C303.67,254.72 307.83,256.97 312.00,259.50 C316.17,262.03 322.83,266.42 325.00,267.80" fill="none" stroke="#e64b5a" stroke-width="3.6" stroke-linecap="round" stroke-linejoin="round" opacity="1.0"/>
<path d="M251.00,222.60 L257.50,229.50" fill="none" stroke="#e83a3e" stroke-width="5.8" stroke-linecap="round" stroke-linejoin="round" opacity="1.0"/></g>
<g><text x="103.57" y="6.63" font-size="9.1" textLength="18.66" lengthAdjust="spacingAndGlyphs" style="stroke-width:0.2px">Mica</text>
<text x="16.34" y="15.65" font-size="8.0" textLength="15.36" lengthAdjust="spacingAndGlyphs" >0.00</text>
<text x="10.56" y="35.95" font-size="8.0" textLength="21.14" lengthAdjust="spacingAndGlyphs" >−0.25</text>
<text x="10.56" y="56.25" font-size="8.0" textLength="21.14" lengthAdjust="spacingAndGlyphs" >−0.50</text>
<text x="20.73" y="71.25" font-size="8.0" textLength="10.97" lengthAdjust="spacingAndGlyphs" >0.0</text>
<text x="14.95" y="103.65" font-size="8.0" textLength="16.75" lengthAdjust="spacingAndGlyphs" >−0.5</text>
<text x="35.62" y="128.25" font-size="8.0" textLength="15.36" lengthAdjust="spacingAndGlyphs" >0.00</text>
<text x="57.52" y="128.25" font-size="8.0" textLength="15.36" lengthAdjust="spacingAndGlyphs" >0.25</text>
<text x="79.42" y="128.25" font-size="8.0" textLength="15.36" lengthAdjust="spacingAndGlyphs" >0.50</text>
<text x="101.32" y="128.25" font-size="8.0" textLength="15.36" lengthAdjust="spacingAndGlyphs" >0.75</text>
<text x="123.22" y="128.25" font-size="8.0" textLength="15.36" lengthAdjust="spacingAndGlyphs" >1.00</text>
<text x="145.12" y="128.25" font-size="8.0" textLength="15.36" lengthAdjust="spacingAndGlyphs" >1.25</text>
<text x="167.02" y="128.25" font-size="8.0" textLength="15.36" lengthAdjust="spacingAndGlyphs" >1.50</text>
<text x="37.81" y="136.35" font-size="8.0" textLength="10.97" lengthAdjust="spacingAndGlyphs" >0.0</text>
<text x="59.71" y="136.35" font-size="8.0" textLength="10.97" lengthAdjust="spacingAndGlyphs" >0.7</text>
<text x="81.61" y="136.35" font-size="8.0" textLength="10.97" lengthAdjust="spacingAndGlyphs" >1.4</text>
<text x="103.51" y="136.35" font-size="8.0" textLength="10.97" lengthAdjust="spacingAndGlyphs" >2.1</text>
<text x="125.41" y="136.35" font-size="8.0" textLength="10.97" lengthAdjust="spacingAndGlyphs" >2.8</text>
<text x="147.31" y="136.35" font-size="8.0" textLength="10.97" lengthAdjust="spacingAndGlyphs" >3.5</text>
<text x="169.21" y="136.35" font-size="8.0" textLength="10.97" lengthAdjust="spacingAndGlyphs" >4.2</text>
<text x="6.00" y="128.25" font-size="8.0" textLength="16.48" lengthAdjust="spacingAndGlyphs" >[nm]</text>
<text x="6.00" y="136.35" font-size="8.0" textLength="24.75" lengthAdjust="spacingAndGlyphs" >[mm/s]</text>
<text x="70.01" y="146.25" font-size="8.0" textLength="85.77" lengthAdjust="spacingAndGlyphs" >amplitude / max velocity</text>
<g transform="translate(3.50,36.40) rotate(-90)" style="stroke-width:0.28px"><text style="stroke-width:0.3px" x="-17.54" y="2.75" font-size="8.0" textLength="4.21" lengthAdjust="spacingAndGlyphs">F</text><text style="stroke-width:0.3px" x="-13.13" y="4.25" font-size="6.24" textLength="1.62" lengthAdjust="spacingAndGlyphs">I</text><text style="stroke-width:0.3px" x="-11.31" y="2.75" font-size="8.0" textLength="28.85" lengthAdjust="spacingAndGlyphs">(A) [nN]</text></g>
<g transform="translate(7.20,91.40) rotate(-90)" style="stroke-width:0.28px"><text style="stroke-width:0.3px" x="-18.89" y="2.75" font-size="8.0" textLength="4.21" lengthAdjust="spacingAndGlyphs">F</text><text style="stroke-width:0.3px" x="-14.48" y="4.25" font-size="6.24" textLength="4.32" lengthAdjust="spacingAndGlyphs">O</text><text style="stroke-width:0.3px" x="-9.96" y="2.75" font-size="8.0" textLength="28.85" lengthAdjust="spacingAndGlyphs">(A) [nN]</text></g>
<text x="44.70" y="49.95" font-size="8.0" textLength="10.97" lengthAdjust="spacingAndGlyphs" >1.7</text>
<text x="44.70" y="58.05" font-size="8.0" textLength="14.21" lengthAdjust="spacingAndGlyphs" >N/m</text>
<text x="314.74" y="6.63" font-size="9.1" textLength="10.03" lengthAdjust="spacingAndGlyphs" style="stroke-width:0.2px">PS</text>
<text x="234.31" y="15.85" font-size="8.0" textLength="4.39" lengthAdjust="spacingAndGlyphs" >0</text>
<text x="228.53" y="36.75" font-size="8.0" textLength="10.17" lengthAdjust="spacingAndGlyphs" >−2</text>
<text x="228.53" y="56.65" font-size="8.0" textLength="10.17" lengthAdjust="spacingAndGlyphs" >−4</text>
<text x="234.31" y="73.85" font-size="8.0" textLength="4.39" lengthAdjust="spacingAndGlyphs" >0</text>
<text x="228.53" y="102.65" font-size="8.0" textLength="10.17" lengthAdjust="spacingAndGlyphs" >−2</text>
<text x="246.60" y="128.25" font-size="8.0" textLength="4.39" lengthAdjust="spacingAndGlyphs" >0</text>
<text x="283.20" y="128.25" font-size="8.0" textLength="4.39" lengthAdjust="spacingAndGlyphs" >2</text>
<text x="320.30" y="128.25" font-size="8.0" textLength="4.39" lengthAdjust="spacingAndGlyphs" >4</text>
<text x="357.30" y="128.25" font-size="8.0" textLength="4.39" lengthAdjust="spacingAndGlyphs" >6</text>
<text x="243.31" y="136.35" font-size="8.0" textLength="10.97" lengthAdjust="spacingAndGlyphs" >0.0</text>
<text x="279.91" y="136.35" font-size="8.0" textLength="10.97" lengthAdjust="spacingAndGlyphs" >6.5</text>
<text x="314.82" y="136.35" font-size="8.0" textLength="15.36" lengthAdjust="spacingAndGlyphs" >13.0</text>
<text x="351.82" y="136.35" font-size="8.0" textLength="15.36" lengthAdjust="spacingAndGlyphs" >19.4</text>
<text x="213.00" y="128.25" font-size="8.0" textLength="16.48" lengthAdjust="spacingAndGlyphs" >[nm]</text>
<text x="213.00" y="136.35" font-size="8.0" textLength="24.75" lengthAdjust="spacingAndGlyphs" >[mm/s]</text>
<text x="276.86" y="146.25" font-size="8.0" textLength="85.77" lengthAdjust="spacingAndGlyphs" >amplitude / max velocity</text>
<g transform="translate(221.00,36.40) rotate(-90)" style="stroke-width:0.28px"><text style="stroke-width:0.3px" x="-17.54" y="2.75" font-size="8.0" textLength="4.21" lengthAdjust="spacingAndGlyphs">F</text><text style="stroke-width:0.3px" x="-13.13" y="4.25" font-size="6.24" textLength="1.62" lengthAdjust="spacingAndGlyphs">I</text><text style="stroke-width:0.3px" x="-11.31" y="2.75" font-size="8.0" textLength="28.85" lengthAdjust="spacingAndGlyphs">(A) [nN]</text></g>
<g transform="translate(220.50,91.40) rotate(-90)" style="stroke-width:0.28px"><text style="stroke-width:0.3px" x="-18.89" y="2.75" font-size="8.0" textLength="4.21" lengthAdjust="spacingAndGlyphs">F</text><text style="stroke-width:0.3px" x="-14.48" y="4.25" font-size="6.24" textLength="4.32" lengthAdjust="spacingAndGlyphs">O</text><text style="stroke-width:0.3px" x="-9.96" y="2.75" font-size="8.0" textLength="28.85" lengthAdjust="spacingAndGlyphs">(A) [nN]</text></g>
<text x="251.70" y="49.95" font-size="8.0" textLength="10.97" lengthAdjust="spacingAndGlyphs" >3.9</text>
<text x="251.70" y="58.05" font-size="8.0" textLength="14.21" lengthAdjust="spacingAndGlyphs" >N/m</text>
<text x="102.52" y="160.63" font-size="9.1" textLength="20.75" lengthAdjust="spacingAndGlyphs" style="stroke-width:0.2px">LDPE</text>
<text x="27.31" y="169.85" font-size="8.0" textLength="4.39" lengthAdjust="spacingAndGlyphs" >0</text>
<text x="21.53" y="190.35" font-size="8.0" textLength="10.17" lengthAdjust="spacingAndGlyphs" >−2</text>
<text x="21.53" y="210.25" font-size="8.0" textLength="10.17" lengthAdjust="spacingAndGlyphs" >−4</text>
<text x="27.31" y="226.85" font-size="8.0" textLength="4.39" lengthAdjust="spacingAndGlyphs" >0</text>
<text x="21.53" y="261.25" font-size="8.0" textLength="10.17" lengthAdjust="spacingAndGlyphs" >−2</text>
<text x="38.30" y="282.25" font-size="8.0" textLength="4.39" lengthAdjust="spacingAndGlyphs" >0</text>
<text x="74.90" y="282.25" font-size="8.0" textLength="4.39" lengthAdjust="spacingAndGlyphs" >2</text>
<text x="111.50" y="282.25" font-size="8.0" textLength="4.39" lengthAdjust="spacingAndGlyphs" >4</text>
<text x="148.10" y="282.25" font-size="8.0" textLength="4.39" lengthAdjust="spacingAndGlyphs" >6</text>
<text x="184.80" y="282.25" font-size="8.0" textLength="4.39" lengthAdjust="spacingAndGlyphs" >8</text>
<text x="35.01" y="290.35" font-size="8.0" textLength="10.97" lengthAdjust="spacingAndGlyphs" >0.0</text>
<text x="71.61" y="290.35" font-size="8.0" textLength="10.97" lengthAdjust="spacingAndGlyphs" >6.5</text>
<text x="106.02" y="290.35" font-size="8.0" textLength="15.36" lengthAdjust="spacingAndGlyphs" >13.0</text>
<text x="142.62" y="290.35" font-size="8.0" textLength="15.36" lengthAdjust="spacingAndGlyphs" >19.4</text>
<text x="179.32" y="290.35" font-size="8.0" textLength="15.36" lengthAdjust="spacingAndGlyphs" >25.9</text>
<text x="6.00" y="282.25" font-size="8.0" textLength="16.48" lengthAdjust="spacingAndGlyphs" >[nm]</text>
<text x="6.00" y="290.35" font-size="8.0" textLength="24.75" lengthAdjust="spacingAndGlyphs" >[mm/s]</text>
<text x="70.01" y="300.25" font-size="8.0" textLength="85.77" lengthAdjust="spacingAndGlyphs" >amplitude / max velocity</text>
<g transform="translate(14.30,190.40) rotate(-90)" style="stroke-width:0.28px"><text style="stroke-width:0.3px" x="-17.54" y="2.75" font-size="8.0" textLength="4.21" lengthAdjust="spacingAndGlyphs">F</text><text style="stroke-width:0.3px" x="-13.13" y="4.25" font-size="6.24" textLength="1.62" lengthAdjust="spacingAndGlyphs">I</text><text style="stroke-width:0.3px" x="-11.31" y="2.75" font-size="8.0" textLength="28.85" lengthAdjust="spacingAndGlyphs">(A) [nN]</text></g>
<g transform="translate(13.20,245.40) rotate(-90)" style="stroke-width:0.28px"><text style="stroke-width:0.3px" x="-18.89" y="2.75" font-size="8.0" textLength="4.21" lengthAdjust="spacingAndGlyphs">F</text><text style="stroke-width:0.3px" x="-14.48" y="4.25" font-size="6.24" textLength="4.32" lengthAdjust="spacingAndGlyphs">O</text><text style="stroke-width:0.3px" x="-9.96" y="2.75" font-size="8.0" textLength="28.85" lengthAdjust="spacingAndGlyphs">(A) [nN]</text></g>
<text x="45.00" y="203.95" font-size="8.0" textLength="10.97" lengthAdjust="spacingAndGlyphs" >2.4</text>
<text x="45.00" y="212.05" font-size="8.0" textLength="14.21" lengthAdjust="spacingAndGlyphs" >N/m</text>
<text x="308.12" y="160.63" font-size="9.1" textLength="23.25" lengthAdjust="spacingAndGlyphs" style="stroke-width:0.2px">PDMS</text>
<text x="227.73" y="170.45" font-size="8.0" textLength="10.97" lengthAdjust="spacingAndGlyphs" >0.0</text>
<text x="221.95" y="188.75" font-size="8.0" textLength="16.75" lengthAdjust="spacingAndGlyphs" >−2.5</text>
<text x="221.95" y="207.05" font-size="8.0" textLength="16.75" lengthAdjust="spacingAndGlyphs" >−5.0</text>
<text x="234.31" y="226.85" font-size="8.0" textLength="4.39" lengthAdjust="spacingAndGlyphs" >0</text>
<text x="228.53" y="257.25" font-size="8.0" textLength="10.17" lengthAdjust="spacingAndGlyphs" >−2</text>
<text x="244.10" y="282.25" font-size="8.0" textLength="4.39" lengthAdjust="spacingAndGlyphs" >0</text>
<text x="273.50" y="282.25" font-size="8.0" textLength="4.39" lengthAdjust="spacingAndGlyphs" >2</text>
<text x="302.90" y="282.25" font-size="8.0" textLength="4.39" lengthAdjust="spacingAndGlyphs" >4</text>
<text x="332.30" y="282.25" font-size="8.0" textLength="4.39" lengthAdjust="spacingAndGlyphs" >6</text>
<text x="361.70" y="282.25" font-size="8.0" textLength="4.39" lengthAdjust="spacingAndGlyphs" >8</text>
<text x="388.91" y="282.25" font-size="8.0" textLength="8.78" lengthAdjust="spacingAndGlyphs" >10</text>
<text x="240.81" y="290.35" font-size="8.0" textLength="10.97" lengthAdjust="spacingAndGlyphs" >0.0</text>
<text x="270.21" y="290.35" font-size="8.0" textLength="10.97" lengthAdjust="spacingAndGlyphs" >6.5</text>
<text x="297.42" y="290.35" font-size="8.0" textLength="15.36" lengthAdjust="spacingAndGlyphs" >13.0</text>
<text x="326.82" y="290.35" font-size="8.0" textLength="15.36" lengthAdjust="spacingAndGlyphs" >19.4</text>
<text x="356.22" y="290.35" font-size="8.0" textLength="15.36" lengthAdjust="spacingAndGlyphs" >25.9</text>
<text x="385.62" y="290.35" font-size="8.0" textLength="15.36" lengthAdjust="spacingAndGlyphs" >32.4</text>
<text x="213.00" y="282.25" font-size="8.0" textLength="16.48" lengthAdjust="spacingAndGlyphs" >[nm]</text>
<text x="213.00" y="290.35" font-size="8.0" textLength="24.75" lengthAdjust="spacingAndGlyphs" >[mm/s]</text>
<text x="276.86" y="300.25" font-size="8.0" textLength="85.77" lengthAdjust="spacingAndGlyphs" >amplitude / max velocity</text>
<g transform="translate(213.50,190.40) rotate(-90)" style="stroke-width:0.28px"><text style="stroke-width:0.3px" x="-17.54" y="2.75" font-size="8.0" textLength="4.21" lengthAdjust="spacingAndGlyphs">F</text><text style="stroke-width:0.3px" x="-13.13" y="4.25" font-size="6.24" textLength="1.62" lengthAdjust="spacingAndGlyphs">I</text><text style="stroke-width:0.3px" x="-11.31" y="2.75" font-size="8.0" textLength="28.85" lengthAdjust="spacingAndGlyphs">(A) [nN]</text></g>
<g transform="translate(220.50,245.40) rotate(-90)" style="stroke-width:0.28px"><text style="stroke-width:0.3px" x="-18.89" y="2.75" font-size="8.0" textLength="4.21" lengthAdjust="spacingAndGlyphs">F</text><text style="stroke-width:0.3px" x="-14.48" y="4.25" font-size="6.24" textLength="4.32" lengthAdjust="spacingAndGlyphs">O</text><text style="stroke-width:0.3px" x="-9.96" y="2.75" font-size="8.0" textLength="28.85" lengthAdjust="spacingAndGlyphs">(A) [nN]</text></g>
<text x="252.00" y="203.95" font-size="8.0" textLength="10.97" lengthAdjust="spacingAndGlyphs" >2.3</text>
<text x="252.00" y="212.05" font-size="8.0" textLength="14.21" lengthAdjust="spacingAndGlyphs" >N/m</text></g>
</svg></body></html>
